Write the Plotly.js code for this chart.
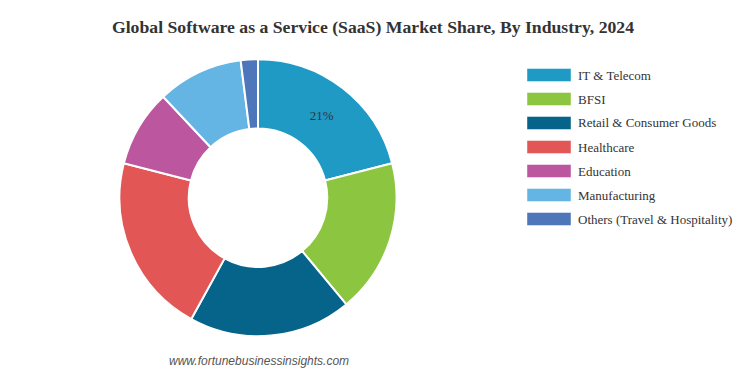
<!DOCTYPE html>
<html>
<head>
<meta charset="utf-8">
<script src="https://cdn.plot.ly/plotly-3.0.1.min.js"></script>
<style>html,body{margin:0;padding:0;background:#fff;}#chart{width:745px;height:372px;}</style>
</head>
<body>
<div id="chart"></div>
<script>
const categories = ["IT & Telecom", "BFSI", "Retail & Consumer Goods", "Healthcare", "Education", "Manufacturing", "Others (Travel & Hospitality)"];
const shares = [21, 18, 19, 21, 9, 10, 2];
const sliceLabels = ["21%", "", "", "", "", "", ""];
const colors = ["#1E9AC4", "#8CC540", "#066389", "#E25756", "#BC569F", "#65B5E4", "#4E76BA"];
const titleText = "Global Software as a Service (SaaS) Market Share, By Industry, 2024";
const sourceText = "www.fortunebusinessinsights.com";

const W = 745, H = 372;
const trace = {
  type: "pie",
  labels: categories,
  values: shares,
  text: sliceLabels,
  textinfo: "text",
  textposition: "inside",
  insidetextorientation: "horizontal",
  insidetextfont: {family: "Liberation Serif, Times New Roman, serif", size: 13, color: "#333333"},
  hole: 0.5,
  sort: false,
  direction: "clockwise",
  rotation: 0,
  marker: {colors: colors, line: {color: "#ffffff", width: 2}},
  domain: {x: [(258 - 138.5) / W, (258 + 138.5) / W], y: [1 - (197.7 + 138.5) / H, 1 - (197.7 - 138.5) / H]},
  showlegend: false,
  hoverinfo: "label+percent"
};

const shapes = [];
const annotations = [];
categories.forEach((c, i) => {
  const yc = 75 + i * 24;
  shapes.push({type: "rect", xref: "paper", yref: "paper",
    x0: 527 / W, x1: 571 / W, y0: 1 - (yc + 6.5) / H, y1: 1 - (yc - 6.5) / H,
    fillcolor: colors[i], line: {color: "rgba(255,255,255,0.45)", width: 1}});
  annotations.push({xref: "paper", yref: "paper", x: 576 / W, y: 1 - yc / H,
    xanchor: "left", yanchor: "middle", showarrow: false, text: c,
    font: {family: "Liberation Serif, Times New Roman, serif", size: 13, color: "#333333"}});
});
annotations.push({xref: "paper", yref: "paper", x: 258.5 / W, y: 1 - 360.5 / H,
  xanchor: "center", yanchor: "middle", showarrow: false,
  text: "<i>" + sourceText + "</i>",
  font: {family: "Liberation Sans, Arial, sans-serif", size: 12, color: "#555555"}});

const layout = {
  width: W, height: H,
  margin: {l: 0, r: 0, t: 0, b: 0},
  paper_bgcolor: "#ffffff",
  title: {text: "<b>" + titleText + "</b>", x: 373 / W, xanchor: "center", y: 1 - 27 / H, yanchor: "middle",
    font: {family: "Liberation Serif, Times New Roman, serif", size: 17.7, color: "#333333"}},
  showlegend: false,
  shapes: shapes,
  annotations: annotations
};
Plotly.newPlot("chart", [trace], layout, {displayModeBar: false, staticPlot: true});
</script>
</body>
</html>
